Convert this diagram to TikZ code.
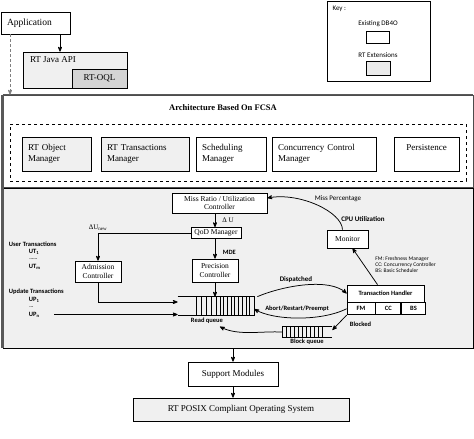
\documentclass[tikz,border=0pt]{standalone}
\usepackage{xcolor}
\usepackage{tikz}
\usetikzlibrary{arrows, positioning}
\usepackage{fontspec}
\setmainfont{Liberation Serif}
\newfontfamily\calfont{Carlito}

\begin{document}
\begin{tikzpicture}[>=stealth',
	x=1pt, y=-1pt,
	line width=0.75pt,
	box/.style={draw, fill=white, inner sep=0pt, align=center, font=\fontsize{7.5}{8.5}\selectfont},
	bigbox/.style={box, font=\fontsize{9}{11}\selectfont},
	modbox/.style={bigbox, fill=black!6, minimum height=34, align=left, inner xsep=6pt},
	thbox/.style={box, font=\calfont\bfseries\fontsize{6.5}{7}\selectfont},
	lbl/.style={font=\calfont\bfseries\fontsize{6.5}{7}\selectfont, inner sep=0.5pt},
	dots/.style={font=\calfont\bfseries\fontsize{5}{5}\selectfont, inner sep=0pt, anchor=west},
	keytext/.style={font=\calfont\fontsize{7}{8}\selectfont, inner sep=0.5pt}]
	\useasboundingbox (0,0) rectangle (474,439);

	\node at (35.5,23) (app) [bigbox, minimum height=22, text width=57, inner xsep=6pt, align=left, font=\fontsize{9.5}{11}\selectfont] {Application};
	\node at (75,70) (api) [box, fill=black!6, minimum width=104, minimum height=36] {};
	\node at (api.north west) (apitxt) [anchor=north west, inner sep=0pt, xshift=7pt, yshift=-5pt, font=\fontsize{9}{11}\selectfont] {RT Java API};
	\node at (api.south east) (oql) [bigbox, fill=black!17, anchor=south east, minimum width=55, minimum height=19] {RT-OQL};

	\node at (378.5,41) (key) [box, minimum width=103, minimum height=80] {};
	\node at (key.north west) (keytxt) [keytext, anchor=north west, xshift=5pt, yshift=-5pt] {Key :};
	\node at (378,24) (exist) [keytext] {Existing DB4O};
	\node [box, below=3pt of exist, minimum width=23, minimum height=12] (exbox) {};
	\node [keytext, below=8pt of exbox] (ext) {RT Extensions};
	\node [box, fill=black!8, below=3pt of ext, minimum width=24, minimum height=14] (extbox) {};

	\node at (238,141) (arch) [box, draw=black!70, minimum width=470, minimum height=92] {};
	\node at (223,108) (archtxt) [inner sep=0pt, font=\bfseries\fontsize{8.5}{10}\selectfont] {Architecture Based On FCSA};
	\node at (238,152.5) (fcsa) [box, dashed, fill=none, minimum width=456, minimum height=57] {};
	\node at (56.5,154) (rtom) [modbox, text width=57] {RT Object\\Manager};
	\node at (145,154) (rttm) [modbox, text width=76] {RT Transactions\\Manager};
	\node at (231,154) (sched) [modbox, fill=white, text width=58] {Scheduling\\Manager};
	\node at (324,154) (ccm) [modbox, fill=white, text width=92] {Concurrency Control\\Manager};
	\node at (426.5,154) (pers) [modbox, fill=white, text width=53, align=center, text depth=12pt] {Persistence};

	\node at (238,268) (mid) [box, fill=black!6, minimum width=470, minimum height=160] {};
	\draw[line width=2.5pt, black!65] (arch.north west) -- (mid.south west);
	\draw[line width=1.5pt, black!65] (arch.north west) -- (arch.north east);

	\draw[->] (app.south -| 60,0) -- (api.north -| 60,0);
	\draw[->, densely dashed, black!50] (app.south -| 10,0) -- (arch.north -| 10,0);

	\node at (219.5,203) (mrc) [box, minimum width=95, minimum height=20] {Miss Ratio / Utilization\\Controller};
	\node at (216,233) (qod) [box, minimum width=50, minimum height=11] {QoD Manager};
	\node at (215,270.5) (prc) [box, minimum width=46, minimum height=23] {Precision\\Controller};
	\node at (98,271.5) (adm) [box, minimum width=46, minimum height=21] {Admission\\Controller};
	\node at (347.5,239) (mon) [box, minimum width=41, minimum height=18] {Monitor};

	\node at (385.5,293.5) (th) [thbox, minimum width=77, minimum height=17] {Transaction Handler};
	\node at (th.south west) (fm) [thbox, anchor=north west, minimum width=28, minimum height=12] {FM};
	\node at (fm.north east) (cc) [thbox, anchor=north west, minimum width=25, minimum height=12] {CC};
	\node at (cc.north east) (bs) [thbox, anchor=north west, minimum width=24, minimum height=12] {BS};
	\node at (375,256) (leg) [anchor=north west, align=left, inner sep=0pt, font=\calfont\fontsize{5.5}{6}\selectfont] {FM: Freshness Manager\\CC: Concurrency Controller\\BS: Basic Scheduler};

	\node at (216,306) (rq) [minimum width=76, minimum height=18, inner sep=0pt] {};
	\draw (rq.north west) -- (rq.north east) -- (rq.south east) -- (rq.south west);
	\foreach \i in {19,24,29,34,39,43,46,50,54,57,61,65,69,72}
		\draw ([xshift=\i pt]rq.north west) -- ([xshift=\i pt]rq.south west);
	\node at (207,321) (rql) [lbl] {Read queue};
	\node at (307.5,332) (bq) [minimum width=49, minimum height=10, inner sep=0pt] {};
	\draw (bq.north east) -- (bq.north west) -- (bq.south west) -- (bq.south east);
	\foreach \i in {4,8,...,40}
		\draw ([xshift=\i pt]bq.north west) -- ([xshift=\i pt]bq.south west);
	\node at (307,342) (bql) [lbl] {Block queue};

	\node at (8,244) (usr) [lbl, anchor=west] {User Transactions};
	\node at (28,251.5) (ut1) [lbl, anchor=west] {UT\textsubscript{1}};
	\node at (29,259.5) (utd) [dots] {......};
	\node at (28,266.5) (utm) [lbl, anchor=west] {UT\textsubscript{m}};
	\node at (8,292) (upd) [lbl, anchor=west] {Update Transactions};
	\node at (28,300) (up1) [lbl, anchor=west] {UP\textsubscript{1}};
	\node at (29,307.5) (upd2) [dots] {...};
	\node at (28,314.5) (upn) [lbl, anchor=west] {UP\textsubscript{n}};

	\node at (338,199) (missp) [font=\calfont\fontsize{7}{8}\selectfont, inner sep=0pt] {Miss Percentage};
	\node at (363,219) (cpuu) [lbl, font=\calfont\bfseries\fontsize{7}{8}\selectfont] {CPU Utilization};

	\draw[->] (mrc.south -| prc.north) -- (qod.north -| prc.north) node[midway, right=7pt, inner sep=0pt, font=\fontsize{7}{8}\selectfont] (du) {Δ U};
	\draw[->] (qod.south -| prc.north) -- (prc.north) node[pos=0.7, right=7pt, lbl] (mde) {MDE};
	\draw[->] (prc.south) -- (prc.south |- rq.north);
	\draw[->] (qod.west) -| (adm.north) node[pos=0.5, above=2pt, inner sep=0pt, font=\fontsize{7}{8}\selectfont] (dun) {ΔU\textsubscript{new}};
	\draw[->] (adm.south) |- ([yshift=4pt]rq.west);
	\draw[->] (upn.east -| 54,0) -- (upn.east -| rq.west);
	\draw[->] ([xshift=-5pt]mon.north) .. controls (342,212) and (300,192) .. ([yshift=5pt]mrc.east);
	\draw[->] ([xshift=-8pt]th.north) -- ([xshift=5pt]mon.south);
	\draw[->] ([xshift=3pt]rq.north east) .. controls (285,285) and (330,278) .. (th.west) node[pos=0.4, above=3pt, lbl, font=\calfont\bfseries\fontsize{7}{8}\selectfont] (disp) {Dispatched};
	\draw[->] (fm.west) .. controls (320,322) and (272,320) .. ([yshift=-3pt]rq.east) node[pos=0.5, above=6pt, lbl] (abrt) {Abort/Restart/Preempt};
	\draw[->] (fm.south west) -- ([yshift=2pt]bq.east) node[pos=0.6, anchor=west, xshift=11pt, lbl] (blk) {Blocked};
	\draw[->] (bq.west) .. controls (260,331) and (238,336) .. ([xshift=-4pt, yshift=-2pt]rql.south east);

	\node at (233,374) (sup) [bigbox, minimum width=90, minimum height=24] {Support Modules};
	\node at (241,409.5) (os) [bigbox, fill=black!6, minimum width=216, minimum height=23] {RT POSIX Compliant Operating System};
	\draw[->] (mid.south -| sup.north) -- (sup.north);
	\draw[->] (sup.south) -- (sup.south |- os.north);
\end{tikzpicture}
\end{document}
